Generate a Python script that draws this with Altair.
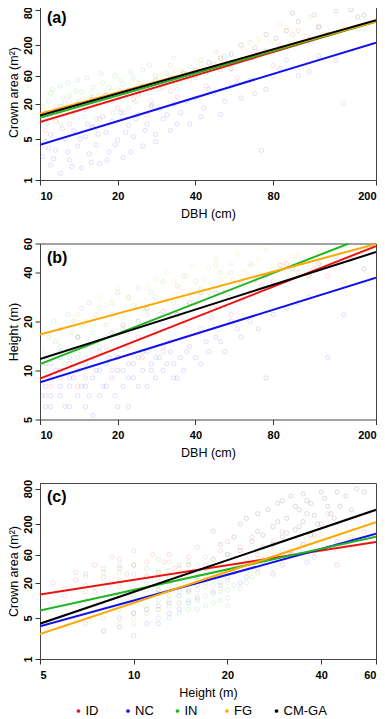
import altair as alt
import pandas as pd

groups = ["ID", "NC", "IN", "FG", "CM-GA"]
colors = ["#ee1111", "#1111ee", "#22b422", "#ffa800", "#000000"]
panel_labels = ["(a)", "(b)", "(c)"]

# ---------- panel (a): DBH (cm) vs crown area (m2) ----------
a_in = [(10.5, 12), (10.8, 22), (11, 30), (11.5, 16), (12, 9), (12, 40), (12.5, 20), (13, 27),
        (13.5, 14), (14, 50), (14.5, 32), (15, 18), (15.5, 24), (16, 38), (16.5, 11), (17, 28),
        (17.5, 45), (18, 20), (19, 33), (19.5, 60), (20, 25), (21, 42), (22, 17), (23, 55),
        (24, 30), (25, 75), (26, 40), (27, 22), (28, 60), (30, 48), (32, 90), (34, 35),
        (36, 70), (40, 55), (42, 110), (46, 80), (52, 130), (58, 100), (65, 220), (75, 160),
        (10.2, 18), (10.7, 9), (11.2, 35), (11.8, 13), (12.3, 25), (12.8, 45), (13.2, 17),
        (13.8, 33), (14.2, 22), (14.8, 12), (15.2, 55), (15.8, 30), (16.2, 20), (17.2, 65),
        (17.8, 25), (18.5, 38), (19.2, 14), (20.5, 50), (21.5, 30), (22.5, 70), (23.5, 22),
        (24.5, 45), (26.5, 90), (29, 35), (31, 65), (33, 120), (35, 45), (38, 85), (44, 65), (48, 150)]
a_nc = [(10.2, 2.5), (10.5, 4.5), (11, 1.8), (11, 6), (11.5, 3.2), (12, 1.3), (12.5, 5), (13, 2.2),
        (13.5, 7), (14, 3.8), (14.5, 1.6), (15, 5.5), (15.5, 2.8), (16, 8), (16.5, 4), (17, 1.9),
        (18, 6.5), (18.5, 3), (19, 10), (20, 4.8), (21, 2.4), (22, 8.5), (23, 5.5), (24, 13),
        (25, 3.8), (26, 9), (28, 6), (29, 16), (30, 11), (32, 7), (33, 20), (35, 14), (38, 9),
        (40, 25), (43, 17), (47, 30), (50, 13), (55, 40), (60, 25), (65, 50), (72, 3.2), (75, 35),
        (85, 80), (100, 60), (120, 130), (140, 110),
        (10.8, 3.5), (11.3, 2.3), (12.2, 7.5), (12.8, 3), (13.3, 1.7), (14.3, 5), (15.3, 9),
        (15.8, 2), (16.8, 6), (17.5, 12), (18.2, 2.2), (19.5, 4), (20.5, 14), (21.5, 6.5),
        (22.5, 3), (23.5, 11), (25.5, 7), (27, 18), (28, 4.5), (31, 13), (34, 9), (37, 22),
        (42, 12), (45, 35), (52, 22), (58, 45), (68, 30), (80, 60), (90, 110), (110, 70)]
a_id = [(10.5, 7), (12, 13), (13, 9), (15, 16), (17, 11), (19, 22), (21, 14), (24, 28), (27, 19),
        (30, 38), (34, 26), (38, 50), (44, 40), (50, 75), (58, 55), (66, 120), (80, 90), (95, 300),
        (120, 420), (150, 20), (110, 250), (11.5, 10), (14, 19), (16, 8), (20, 17), (23, 24),
        (26, 13), (32, 33), (40, 60), (47, 95), (55, 80), (70, 150), (85, 200), (100, 350), (125, 300)]
a_fg = [(11, 14), (13, 22), (16, 26), (20, 35), (24, 46), (29, 58), (35, 75), (42, 95), (50, 120),
        (62, 170), (78, 220), (90, 400), (105, 280), (130, 350), (12, 16), (18, 32), (26, 40),
        (33, 65), (40, 110), (55, 90), (70, 250), (85, 450), (110, 600), (150, 450)]
a_cm = [(12, 18), (16, 24), (22, 34), (28, 50), (36, 65), (45, 100), (55, 140), (68, 180), (82, 260),
        (100, 500), (115, 650), (140, 750), (170, 600), (95, 700), (10.5, 14), (14, 20), (18, 28),
        (25, 40), (32, 55), (40, 75), (50, 120), (60, 200), (75, 300), (90, 350), (120, 400),
        (160, 800), (130, 300), (180, 650)]

# ---------- panel (b): DBH (cm) vs height (m) ----------
b_nc = [(10.5, 6), (11, 6), (13, 6), (15, 6), (20, 6), (22, 6), (11, 7), (12, 7), (14, 7), (17, 7),
        (10.5, 8), (12, 8), (13, 8), (15, 8), (18, 8), (21, 8), (26, 8), (11, 9), (13, 9), (16, 9),
        (19, 9), (23, 9), (28, 9), (33, 9), (12, 10), (14, 10), (17, 10), (20, 10), (25, 10),
        (30, 10), (36, 10), (15, 11), (18, 11), (22, 11), (27, 11), (31, 11), (20, 12), (24, 12),
        (29, 12), (35, 12), (40, 12), (26, 13), (32, 13), (45, 13), (38, 14), (50, 15), (60, 16),
        (70, 18), (55, 20), (75, 9), (90, 24), (110, 28), (130, 12), (150, 22), (16, 5.3),
        (10.2, 7), (10.8, 9), (11.5, 10), (12.5, 6), (13.5, 9), (14.5, 8), (15.5, 7), (16.5, 10),
        (17.5, 8), (18.5, 12), (19.5, 7), (21, 10), (22, 9), (23, 11), (24, 8), (25, 13), (27, 10),
        (28, 12), (30, 14), (33, 11), (34, 9), (37, 13), (42, 11), (44, 15), (48, 16), (52, 13),
        (58, 18), (65, 20), (80, 22), (100, 26), (12, 13), (13, 12), (10.5, 12), (11, 11)]
b_in = [(10.5, 10), (11, 12), (11.5, 15), (12, 18), (12.5, 11), (13, 13), (13.5, 20), (14, 16),
        (14.5, 24), (15, 12), (16, 17), (16.5, 22), (17, 14), (18, 19), (19, 26), (20, 16), (21, 21),
        (22, 28), (24, 18), (25, 24), (27, 30), (29, 22), (31, 27), (34, 33), (37, 25), (40, 35),
        (45, 30), (50, 40), (56, 36), (65, 45), (10.2, 13), (10.8, 16), (11.3, 20), (12, 14),
        (12.8, 22), (13.3, 17), (14, 12), (14.5, 19), (15.5, 26), (16, 14), (17, 24), (18, 16),
        (19, 22), (20, 30), (21, 18), (23, 25), (24, 32), (26, 22), (28, 28), (30, 35), (33, 26),
        (36, 38), (42, 32), (48, 44), (55, 40)]
b_fg = [(15, 20), (18, 25), (22, 28), (26, 32), (30, 27), (33, 35), (37, 38), (41, 30), (45, 42),
        (50, 36), (55, 45), (62, 40), (70, 48), (80, 42), (95, 50), (120, 55), (140, 45),
        (12, 18), (14, 22), (17, 28), (20, 32), (24, 25), (28, 36), (31, 40), (35, 32), (39, 44),
        (43, 36), (48, 48), (53, 38), (58, 52), (66, 44), (75, 55), (88, 46), (100, 52), (110, 40)]
b_id = [(10.5, 7), (12, 9), (14, 8), (16, 12), (19, 10), (22, 14), (25, 12), (28, 17), (32, 15),
        (36, 20), (42, 18), (48, 25), (55, 22), (65, 30), (80, 35), (100, 40), (130, 38),
        (11, 8), (13, 11), (15, 9), (18, 14), (20, 12), (24, 16), (27, 20), (30, 13), (34, 22),
        (40, 26), (46, 21), (52, 30), (60, 27), (72, 33), (90, 45), (115, 42), (150, 35)]
b_cm = [(12, 12), (15, 14), (19, 17), (24, 20), (30, 23), (38, 26), (48, 30), (60, 34), (75, 38),
        (95, 42), (120, 45), (160, 48), (10.5, 11), (14, 16), (17, 13), (21, 19), (26, 24),
        (34, 22), (42, 30), (54, 28), (68, 36), (85, 44), (110, 38), (140, 50), (180, 42)]

# ---------- panel (c): height (m) vs crown area (m2) ----------
c_in = [(7, 10), (7, 25), (8, 5), (8, 15), (8, 30), (9, 7), (9, 12), (9, 22), (9, 40), (10, 4),
        (10, 9), (10, 16), (10, 28), (11, 6), (11, 11), (11, 20), (11, 35), (12, 5), (12, 13),
        (12, 24), (12, 50), (13, 8), (13, 18), (13, 32), (14, 6), (14, 14), (14, 26), (15, 10),
        (15, 20), (15, 45), (16, 7), (16, 15), (16, 30), (17, 12), (17, 25), (17, 55), (18, 9),
        (18, 18), (18, 35), (19, 14), (19, 28), (20, 11), (20, 22), (20, 60), (22, 16), (22, 40),
        (24, 25), (26, 50), (28, 35), (30, 70),
        (7, 14), (8, 8), (8, 20), (9, 10), (9, 17), (9, 30), (10, 6), (10, 12), (10, 21), (10, 40),
        (11, 8), (11, 15), (11, 26), (12, 7), (12, 10), (12, 18), (12, 33), (13, 5), (13, 12),
        (13, 24), (13, 45), (14, 9), (14, 19), (14, 35), (15, 7), (15, 14), (15, 28), (16, 10),
        (16, 22), (16, 40), (17, 8), (17, 17), (17, 35), (18, 13), (18, 26), (18, 50), (19, 10),
        (19, 20), (19, 40), (20, 8), (20, 15), (20, 30), (21, 18), (21, 35), (23, 20), (23, 50),
        (25, 30), (27, 45), (32, 60), (35, 90)]
c_id = [(5.5, 20), (6, 12), (6.5, 30), (7, 18), (7.5, 40), (8, 25), (8.5, 55), (9, 35), (10, 70),
        (11, 45), (12, 30), (13, 60), (14, 40), (16, 80), (18, 50), (20, 100), (25, 60), (30, 150),
        (35, 90), (40, 200), (45, 40), (50, 120), (6, 16), (6.5, 22), (7, 28), (7.5, 14), (8, 35),
        (8.5, 20), (9, 50), (9.5, 28), (10, 40), (11, 25), (11.5, 60), (12.5, 45), (13.5, 35),
        (15, 55), (17, 40), (19, 70), (22, 80), (24, 120), (28, 100), (32, 70), (38, 130),
        (42, 300), (48, 90), (55, 150)]
c_nc = [(8, 3), (9, 5), (10, 2.5), (11, 4), (12, 8), (13, 6), (14, 12), (15, 9), (16, 18), (18, 14),
        (20, 25), (22, 20), (25, 35), (28, 28), (32, 60), (36, 45), (42, 80), (7, 4), (9, 3.5),
        (10, 6), (11, 7), (12, 4), (13, 9), (14, 7), (15, 15), (16, 11), (17, 22), (19, 18),
        (21, 30), (23, 25), (26, 45), (30, 40), (34, 70), (38, 55), (45, 100)]
c_fg = [(9, 4), (11, 7), (13, 10), (15, 14), (17, 20), (19, 16), (21, 30), (24, 40), (27, 60),
        (30, 50), (34, 90), (38, 120), (45, 180), (8, 3), (10, 5), (12, 7), (14, 9), (16, 12),
        (18, 25), (20, 20), (22, 35), (25, 28), (28, 70), (32, 65), (36, 110), (40, 150), (50, 250)]
c_cm = [(18, 150), (20, 60), (22, 200), (24, 100), (25, 300), (26, 80), (28, 180), (29, 450),
        (30, 120), (31, 250), (32, 600), (33, 160), (34, 350), (35, 220), (36, 500), (37, 130),
        (38, 280), (40, 700), (42, 400), (44, 250), (48, 600), (52, 800), (15, 40), (16, 25), (12, 15),
        (21, 120), (23, 250), (25, 150), (27, 350), (28, 90), (29, 220), (30, 500), (31, 140),
        (33, 400), (34, 180), (35, 650), (36, 300), (37, 450), (39, 200), (41, 550), (43, 300),
        (45, 700), (46, 400), (50, 350), (55, 700), (19, 90), (22, 70), (26, 130)]

# ---------- fitted lines (values at the ends of each line), order = groups ----------
a_line_x0 = [10, 10, 10, 10, 10]
a_line_y0 = [9.7, 4.0, 11.5, 13.4, 12.6]
a_line_x1 = [200, 200, 200, 200, 200]
a_line_y1 = [510, 219, 500, 505, 528]

b_line_x0 = [10, 10, 10, 10, 10]
b_line_y0 = [8.9, 8.45, 10.95, 16.6, 11.75]
b_line_x1 = [200, 200, 157, 200, 200]
b_line_y1 = [57.8, 37.0, 60.0, 59.6, 53.2]

c_line_x0 = [5, 5, 5, 5, 5]
c_line_y0 = [12.6, 3.6, 6.7, 2.67, 4.0]
c_line_x1 = [60, 60, 60, 60, 60]
c_line_y1 = [99, 136, 121, 214, 349]

a_xticks = [10, 20, 40, 80, 200]
a_yticks = [1, 5, 20, 60, 200, 800]
b_xticks = [10, 20, 40, 80, 200]
b_yticks = [5, 10, 20, 40, 60]
c_xticks = [5, 10, 20, 40, 60]
c_yticks = [1, 5, 20, 60, 200, 800]

FONT = "Liberation Sans"


def pts_frame(by_group):
    rows = []
    for g, pts in by_group:
        for x, y in pts:
            rows.append({"x": x, "y": y, "grp": g})
    return pd.DataFrame(rows)


def line_frame(x0, y0, x1, y1):
    rows = []
    for i, g in enumerate(groups):
        rows.append({"x": x0[i], "y": y0[i], "grp": g, "k": 0})
        rows.append({"x": x1[i], "y": y1[i], "grp": g, "k": 1})
    return pd.DataFrame(rows)


color_scale = alt.Scale(domain=groups, range=colors)


def panel(pts, lines, xdom, ydom, xticks, yticks, xtitle, ytitle, label):
    X = alt.X("x:Q", scale=alt.Scale(type="log", domain=xdom, nice=False),
              axis=alt.Axis(values=xticks, format="d", title=xtitle))
    Y = alt.Y("y:Q", scale=alt.Scale(type="log", domain=ydom, nice=False),
              axis=alt.Axis(values=yticks, format="d", title=ytitle))
    C = alt.Color("grp:N", scale=color_scale, legend=None)
    p = alt.Chart(pts).mark_point(size=18, strokeWidth=0.8, opacity=0.17, filled=False).encode(
        x=X, y=Y, color=C)
    l = alt.Chart(lines).mark_line(strokeWidth=2, clip=True).encode(
        x=X, y=Y, color=C, detail="grp:N", order="k:Q")
    t = alt.Chart(pd.DataFrame({"t": [label]})).mark_text(
        align="left", baseline="middle", fontSize=16, fontWeight="bold", font=FONT, color="#000"
    ).encode(x=alt.value(7), y=alt.value(14), text="t:N")
    return alt.layer(p, l, t).properties(width=336, height=176)


pa = panel(pts_frame([("IN", a_in), ("NC", a_nc), ("ID", a_id), ("FG", a_fg), ("CM-GA", a_cm)]),
           line_frame(a_line_x0, a_line_y0, a_line_x1, a_line_y1),
           [10, 200], [1, 1000], a_xticks, a_yticks, "DBH (cm)", "Crown area (m²)", panel_labels[0])
pb = panel(pts_frame([("NC", b_nc), ("IN", b_in), ("FG", b_fg), ("ID", b_id), ("CM-GA", b_cm)]),
           line_frame(b_line_x0, b_line_y0, b_line_x1, b_line_y1),
           [10, 200], [5, 60], b_xticks, b_yticks, "DBH (cm)", "Height (m)", panel_labels[1])
pc = panel(pts_frame([("IN", c_in), ("ID", c_id), ("NC", c_nc), ("FG", c_fg), ("CM-GA", c_cm)]),
           line_frame(c_line_x0, c_line_y0, c_line_x1, c_line_y1),
           [5, 60], [1, 1000], c_xticks, c_yticks, "Height (m)", "Crown area (m²)", panel_labels[2])

leg_base = alt.Chart(pd.DataFrame({"grp": groups})).encode(
    x=alt.X("grp:N", sort=groups, scale=alt.Scale(type="point", range=[38.5, 236.5], padding=0),
            axis=None))
leg_dots = leg_base.mark_point(filled=True, size=14, opacity=1).encode(
    color=alt.Color("grp:N", scale=color_scale, legend=None))
leg_text = leg_base.mark_text(align="left", baseline="middle", dx=7, fontSize=13, font=FONT,
                              color="#000").encode(text="grp:N")
legend = alt.layer(leg_dots, leg_text).properties(
    width=336, height=10, view=alt.ViewBackground(stroke="transparent"))

bottom = alt.vconcat(pc, legend, spacing=47, bounds="flush")
chart = alt.vconcat(pa, pb, bottom, spacing=63.5, bounds="flush").properties(
    padding={"top": -8, "left": -2, "right": 0, "bottom": 0}
).configure(font=FONT).configure_view(stroke="#444", strokeWidth=1).configure_axis(
    grid=False, domain=False, tickSize=5, tickColor="#333", tickWidth=1,
    labelFont=FONT, labelFontSize=11, labelFontWeight="bold", labelColor="#000",
    titleFont=FONT, titleFontSize=12.5, titleFontWeight="normal", titleColor="#000"
).configure_axisX(labelPadding=5, titlePadding=6
).configure_axisY(labelAngle=270, labelAlign="center", labelBaseline="bottom",
                  labelPadding=2, titlePadding=2)

chart.save("out.html", embed_options={"renderer": "svg", "actions": False})
